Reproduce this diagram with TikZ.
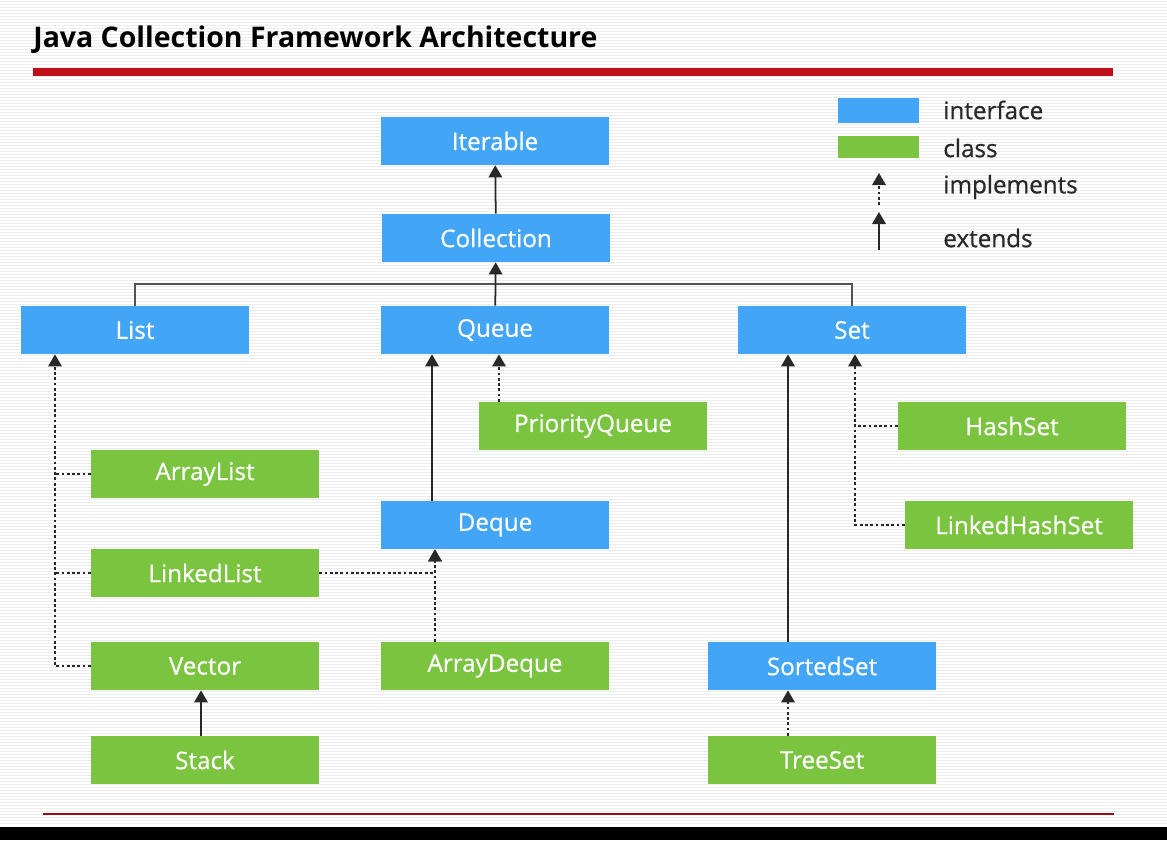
\documentclass[tikz,border=0pt]{standalone}
\usepackage{fontspec}
\setmainfont{Open Sans}
\newfontfamily\boxfont[FakeBold=0.6]{Open Sans}
\usetikzlibrary{arrows.meta}

\definecolor{ifblue}{RGB}{66,165,245}
\definecolor{clgreen}{RGB}{122,196,64}
\definecolor{barred}{RGB}{190,16,22}
\definecolor{ink}{RGB}{40,40,40}

\tikzset{
  box/.style={minimum width=4.56cm, minimum height=0.96cm, inner sep=0pt,
    text=white, font=\boxfont\fontsize{13.8}{16}\selectfont},
  iface/.style={box, fill=ifblue},
  klass/.style={box, fill=clgreen},
  ext/.style={draw=ink, line width=1pt, -{Triangle[width=0.27cm,length=0.24cm]}},
  impl/.style={draw=ink, line width=0.9pt, dash pattern=on 1.6pt off 1.4pt,
    -{Triangle[width=0.27cm,length=0.24cm]}},
  tree/.style={draw=ink!80, line width=0.9pt},
  legtext/.style={anchor=west, text=ink, inner sep=0pt, font=\boxfont\fontsize{13.8}{16}\selectfont},
}

\begin{document}
\begin{tikzpicture}[x=0.02cm, y=-0.02cm]
		\useasboundingbox (0,0) rectangle (1167,840);
		% striped background
		\fill[white] (0,0) rectangle (1167,840);
		\foreach \y in {1.5,4.5,...,826}
			\draw[gray!14, line width=0.5pt] (0,\y) -- (1167,\y);
		\fill[black] (0,827) rectangle (1167,840);
		% title and rules
		\node[anchor=west, inner sep=0pt, font=\fontsize{16.2}{19}\selectfont\bfseries] (title) at (33,40) {Java Collection Framework Architecture};
		\fill[barred] (33,68) rectangle (1113,76);
		\draw[barred!80!black, line width=1.2pt] (43,814) -- (1114,814);
		% interfaces
		\node[iface] (iter) at (495,141) {Iterable};
		\node[iface] (coll) at (496,238) {Collection};
		\node[iface] (list) at (135,330) {List};
		\node[iface] (queue) at (495,330) {Queue};
		\node[iface] (set) at (852,330) {Set};
		\node[iface] (deque) at (495,525) {Deque};
		\node[iface] (sset) at (822,666) {SortedSet};
		% classes
		\node[klass] (pqueue) at (593,426) {PriorityQueue};
		\node[klass] (hset) at (1012,426) {HashSet};
		\node[klass] (lhset) at (1019,525) {LinkedHashSet};
		\node[klass] (alist) at (205,474) {ArrayList};
		\node[klass] (llist) at (205,573) {LinkedList};
		\node[klass] (vector) at (205,666) {Vector};
		\node[klass] (adeque) at (495,666) {ArrayDeque};
		\node[klass] (stack) at (205,760) {Stack};
		\node[klass] (tset) at (822,760) {TreeSet};
		% legend
		\fill[ifblue] (838,98) rectangle (919,123);
		\fill[clgreen] (838,136) rectangle (919,158);
		\node[legtext] (lif) at (943,110) {interface};
		\node[legtext] (lcl) at (943,148) {class};
		\node[legtext] (lim) at (943,187) {implements};
		\node[legtext] (lex) at (943,238) {extends};
		\coordinate (limA) at (879,205);
		\coordinate (limB) at (879,173);
		\coordinate (lexA) at (879,250);
		\coordinate (lexB) at (879,212);
		\draw[impl] (limA) -- (limB);
		\draw[ext] (lexA) -- (lexB);
		% helper columns
		\coordinate (junc) at (495,284);
		\coordinate (lx) at (55,0);
		\coordinate (qx) at (432,0);
		\coordinate (px) at (499,0);
		\coordinate (dx) at (435,0);
		\coordinate (sx) at (788,0);
		\coordinate (hx) at (855,0);
		\coordinate (vx) at (201,0);
		% extends
		\draw[ext] (coll) -- (iter);
		\draw[tree] (list.north) |- (junc) -| (set.north);
		\draw[ext] (queue) -- (coll);
		\draw[ext] (deque.north -| qx) -- (queue.south -| qx);
		\draw[ext] (stack.north -| vx) -- (vector.south -| vx);
		\draw[ext] (sset.north -| sx) -- (set.south -| sx);
		% implements
		\draw[impl] (pqueue.north -| px) -- (queue.south -| px);
		\draw[impl] (vector.west) -| (list.south -| lx);
		\draw[impl, -] (alist.west) -- (alist.west -| lx);
		\draw[impl, -] (llist.west) -- (llist.west -| lx);
		\draw[impl] (llist.east) -| (deque.south -| dx);
		\draw[impl] (adeque.north -| dx) -- (deque.south -| dx);
		\draw[impl] (lhset.west) -| (set.south -| hx);
		\draw[impl, -] (hset.west) -- (hset.west -| hx);
		\draw[impl] (tset.north -| sx) -- (sset.south -| sx);
	\end{tikzpicture}
\end{document}
